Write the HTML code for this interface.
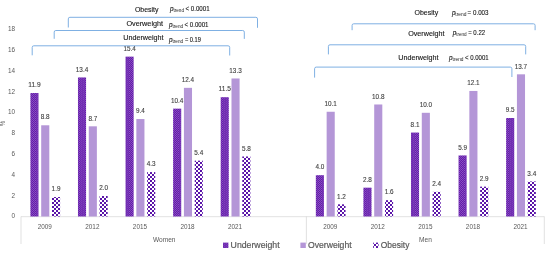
<!DOCTYPE html>
<html lang="en"><head><meta charset="utf-8"><title>Chart</title>
<style>html,body{margin:0;padding:0;background:#fff}svg{display:block}</style></head>
<body>
<svg width="550" height="254" viewBox="0 0 550 254" font-family="'Liberation Sans', sans-serif">
<defs>
<pattern id="pu" width="2.2" height="2" patternUnits="userSpaceOnUse"><rect width="2.2" height="2" fill="#5f14a6"/><circle cx="0.55" cy="0.5" r="0.5" fill="#a070d2"/><circle cx="1.65" cy="1.5" r="0.5" fill="#a070d2"/></pattern>
<pattern id="po" width="4" height="4" patternUnits="userSpaceOnUse"><rect width="4" height="4" fill="#fff"/><rect x="2" y="0" width="2" height="2" fill="#5a14a8"/><rect x="0" y="2" width="2" height="2" fill="#5a14a8"/></pattern>
</defs>
<rect width="550" height="254" fill="#fff"/>
<g stroke="#d9d9d9" stroke-width="0.8" fill="none">
<line x1="21.0" y1="216.7" x2="544.3" y2="216.7"/>
<line x1="21.0" y1="216.5" x2="21.0" y2="244"/>
<line x1="306.4" y1="216.5" x2="306.4" y2="244"/>
<line x1="544.3" y1="216.5" x2="544.3" y2="244"/>
</g>
<text x="11.46" y="218.35" font-size="7" fill="#595959" textLength="3.54" lengthAdjust="spacingAndGlyphs">0</text>
<text x="11.46" y="197.55" font-size="7" fill="#595959" textLength="3.54" lengthAdjust="spacingAndGlyphs">2</text>
<text x="11.46" y="176.75" font-size="7" fill="#595959" textLength="3.54" lengthAdjust="spacingAndGlyphs">4</text>
<text x="11.46" y="155.95" font-size="7" fill="#595959" textLength="3.54" lengthAdjust="spacingAndGlyphs">6</text>
<text x="11.46" y="135.15" font-size="7" fill="#595959" textLength="3.54" lengthAdjust="spacingAndGlyphs">8</text>
<text x="7.92" y="114.35" font-size="7" fill="#595959" textLength="7.08" lengthAdjust="spacingAndGlyphs">10</text>
<text x="7.92" y="93.55" font-size="7" fill="#595959" textLength="7.08" lengthAdjust="spacingAndGlyphs">12</text>
<text x="7.92" y="72.75" font-size="7" fill="#595959" textLength="7.08" lengthAdjust="spacingAndGlyphs">14</text>
<text x="7.92" y="51.95" font-size="7" fill="#595959" textLength="7.08" lengthAdjust="spacingAndGlyphs">16</text>
<text x="7.92" y="31.15" font-size="7" fill="#595959" textLength="7.08" lengthAdjust="spacingAndGlyphs">18</text>
<text font-size="7" fill="#595959" text-anchor="middle" transform="translate(4.9,123.6) rotate(-90) scale(0.89,1)">%</text>
<rect x="30.40" y="93.04" width="8.1" height="123.46" fill="url(#pu)"/>
<text x="28.25" y="87.24" font-size="7" fill="#404040" stroke="#404040" stroke-width="0.12" textLength="12.40" lengthAdjust="spacingAndGlyphs">11.9</text>
<rect x="41.20" y="125.28" width="8.1" height="91.22" fill="#b496d7"/>
<text x="40.82" y="119.48" font-size="7" fill="#404040" stroke="#404040" stroke-width="0.12" textLength="8.85" lengthAdjust="spacingAndGlyphs">8.8</text>
<rect x="52.00" y="197.04" width="8.1" height="19.46" fill="url(#po)"/>
<text x="51.62" y="191.24" font-size="7" fill="#404040" stroke="#404040" stroke-width="0.12" textLength="8.85" lengthAdjust="spacingAndGlyphs">1.9</text>
<text x="37.70" y="228.60" font-size="7" fill="#595959" textLength="14.17" lengthAdjust="spacingAndGlyphs">2009</text>
<rect x="77.97" y="77.44" width="8.1" height="139.06" fill="url(#pu)"/>
<text x="75.82" y="71.64" font-size="7" fill="#404040" stroke="#404040" stroke-width="0.12" textLength="12.40" lengthAdjust="spacingAndGlyphs">13.4</text>
<rect x="88.77" y="126.32" width="8.1" height="90.18" fill="#b496d7"/>
<text x="88.40" y="120.52" font-size="7" fill="#404040" stroke="#404040" stroke-width="0.12" textLength="8.85" lengthAdjust="spacingAndGlyphs">8.7</text>
<rect x="99.57" y="196.00" width="8.1" height="20.50" fill="url(#po)"/>
<text x="99.20" y="190.20" font-size="7" fill="#404040" stroke="#404040" stroke-width="0.12" textLength="8.85" lengthAdjust="spacingAndGlyphs">2.0</text>
<text x="85.28" y="228.60" font-size="7" fill="#595959" textLength="14.17" lengthAdjust="spacingAndGlyphs">2012</text>
<rect x="125.55" y="56.64" width="8.1" height="159.86" fill="url(#pu)"/>
<text x="123.40" y="50.84" font-size="7" fill="#404040" stroke="#404040" stroke-width="0.12" textLength="12.40" lengthAdjust="spacingAndGlyphs">15.4</text>
<rect x="136.35" y="119.04" width="8.1" height="97.46" fill="#b496d7"/>
<text x="135.97" y="113.24" font-size="7" fill="#404040" stroke="#404040" stroke-width="0.12" textLength="8.85" lengthAdjust="spacingAndGlyphs">9.4</text>
<rect x="147.15" y="172.08" width="8.1" height="44.42" fill="url(#po)"/>
<text x="146.77" y="166.28" font-size="7" fill="#404040" stroke="#404040" stroke-width="0.12" textLength="8.85" lengthAdjust="spacingAndGlyphs">4.3</text>
<text x="132.85" y="228.60" font-size="7" fill="#595959" textLength="14.17" lengthAdjust="spacingAndGlyphs">2015</text>
<rect x="173.12" y="108.64" width="8.1" height="107.86" fill="url(#pu)"/>
<text x="170.97" y="102.84" font-size="7" fill="#404040" stroke="#404040" stroke-width="0.12" textLength="12.40" lengthAdjust="spacingAndGlyphs">10.4</text>
<rect x="183.92" y="87.84" width="8.1" height="128.66" fill="#b496d7"/>
<text x="181.77" y="82.04" font-size="7" fill="#404040" stroke="#404040" stroke-width="0.12" textLength="12.40" lengthAdjust="spacingAndGlyphs">12.4</text>
<rect x="194.72" y="160.64" width="8.1" height="55.86" fill="url(#po)"/>
<text x="194.34" y="154.84" font-size="7" fill="#404040" stroke="#404040" stroke-width="0.12" textLength="8.85" lengthAdjust="spacingAndGlyphs">5.4</text>
<text x="180.42" y="228.60" font-size="7" fill="#595959" textLength="14.17" lengthAdjust="spacingAndGlyphs">2018</text>
<rect x="220.69" y="97.20" width="8.1" height="119.30" fill="url(#pu)"/>
<text x="218.54" y="91.40" font-size="7" fill="#404040" stroke="#404040" stroke-width="0.12" textLength="12.40" lengthAdjust="spacingAndGlyphs">11.5</text>
<rect x="231.49" y="78.48" width="8.1" height="138.02" fill="#b496d7"/>
<text x="229.34" y="72.68" font-size="7" fill="#404040" stroke="#404040" stroke-width="0.12" textLength="12.40" lengthAdjust="spacingAndGlyphs">13.3</text>
<rect x="242.29" y="156.48" width="8.1" height="60.02" fill="url(#po)"/>
<text x="241.91" y="150.68" font-size="7" fill="#404040" stroke="#404040" stroke-width="0.12" textLength="8.85" lengthAdjust="spacingAndGlyphs">5.8</text>
<text x="227.99" y="228.60" font-size="7" fill="#595959" textLength="14.17" lengthAdjust="spacingAndGlyphs">2021</text>
<rect x="315.84" y="175.20" width="8.1" height="41.30" fill="url(#pu)"/>
<text x="315.46" y="169.40" font-size="7" fill="#404040" stroke="#404040" stroke-width="0.12" textLength="8.85" lengthAdjust="spacingAndGlyphs">4.0</text>
<rect x="326.64" y="111.76" width="8.1" height="104.74" fill="#b496d7"/>
<text x="324.49" y="105.96" font-size="7" fill="#404040" stroke="#404040" stroke-width="0.12" textLength="12.40" lengthAdjust="spacingAndGlyphs">10.1</text>
<rect x="337.44" y="204.32" width="8.1" height="12.18" fill="url(#po)"/>
<text x="337.06" y="198.52" font-size="7" fill="#404040" stroke="#404040" stroke-width="0.12" textLength="8.85" lengthAdjust="spacingAndGlyphs">1.2</text>
<text x="323.14" y="228.60" font-size="7" fill="#595959" textLength="14.17" lengthAdjust="spacingAndGlyphs">2009</text>
<rect x="363.41" y="187.68" width="8.1" height="28.82" fill="url(#pu)"/>
<text x="363.03" y="181.88" font-size="7" fill="#404040" stroke="#404040" stroke-width="0.12" textLength="8.85" lengthAdjust="spacingAndGlyphs">2.8</text>
<rect x="374.21" y="104.48" width="8.1" height="112.02" fill="#b496d7"/>
<text x="372.06" y="98.68" font-size="7" fill="#404040" stroke="#404040" stroke-width="0.12" textLength="12.40" lengthAdjust="spacingAndGlyphs">10.8</text>
<rect x="385.01" y="200.16" width="8.1" height="16.34" fill="url(#po)"/>
<text x="384.63" y="194.36" font-size="7" fill="#404040" stroke="#404040" stroke-width="0.12" textLength="8.85" lengthAdjust="spacingAndGlyphs">1.6</text>
<text x="370.71" y="228.60" font-size="7" fill="#595959" textLength="14.17" lengthAdjust="spacingAndGlyphs">2012</text>
<rect x="410.98" y="132.56" width="8.1" height="83.94" fill="url(#pu)"/>
<text x="410.60" y="126.76" font-size="7" fill="#404040" stroke="#404040" stroke-width="0.12" textLength="8.85" lengthAdjust="spacingAndGlyphs">8.1</text>
<rect x="421.78" y="112.80" width="8.1" height="103.70" fill="#b496d7"/>
<text x="419.63" y="107.00" font-size="7" fill="#404040" stroke="#404040" stroke-width="0.12" textLength="12.40" lengthAdjust="spacingAndGlyphs">10.0</text>
<rect x="432.58" y="191.84" width="8.1" height="24.66" fill="url(#po)"/>
<text x="432.20" y="186.04" font-size="7" fill="#404040" stroke="#404040" stroke-width="0.12" textLength="8.85" lengthAdjust="spacingAndGlyphs">2.4</text>
<text x="418.28" y="228.60" font-size="7" fill="#595959" textLength="14.17" lengthAdjust="spacingAndGlyphs">2015</text>
<rect x="458.55" y="155.44" width="8.1" height="61.06" fill="url(#pu)"/>
<text x="458.18" y="149.64" font-size="7" fill="#404040" stroke="#404040" stroke-width="0.12" textLength="8.85" lengthAdjust="spacingAndGlyphs">5.9</text>
<rect x="469.35" y="90.96" width="8.1" height="125.54" fill="#b496d7"/>
<text x="467.21" y="85.16" font-size="7" fill="#404040" stroke="#404040" stroke-width="0.12" textLength="12.40" lengthAdjust="spacingAndGlyphs">12.1</text>
<rect x="480.15" y="186.64" width="8.1" height="29.86" fill="url(#po)"/>
<text x="479.78" y="180.84" font-size="7" fill="#404040" stroke="#404040" stroke-width="0.12" textLength="8.85" lengthAdjust="spacingAndGlyphs">2.9</text>
<text x="465.86" y="228.60" font-size="7" fill="#595959" textLength="14.17" lengthAdjust="spacingAndGlyphs">2018</text>
<rect x="506.13" y="118.00" width="8.1" height="98.50" fill="url(#pu)"/>
<text x="505.75" y="112.20" font-size="7" fill="#404040" stroke="#404040" stroke-width="0.12" textLength="8.85" lengthAdjust="spacingAndGlyphs">9.5</text>
<rect x="516.93" y="74.32" width="8.1" height="142.18" fill="#b496d7"/>
<text x="514.78" y="68.52" font-size="7" fill="#404040" stroke="#404040" stroke-width="0.12" textLength="12.40" lengthAdjust="spacingAndGlyphs">13.7</text>
<rect x="527.73" y="181.44" width="8.1" height="35.06" fill="url(#po)"/>
<text x="527.35" y="175.64" font-size="7" fill="#404040" stroke="#404040" stroke-width="0.12" textLength="8.85" lengthAdjust="spacingAndGlyphs">3.4</text>
<text x="513.43" y="228.60" font-size="7" fill="#595959" textLength="14.17" lengthAdjust="spacingAndGlyphs">2021</text>
<text x="152.95" y="241.70" font-size="7" fill="#595959" textLength="22.50" lengthAdjust="spacingAndGlyphs">Women</text>
<text x="419.00" y="242.20" font-size="7" fill="#595959" textLength="12.80" lengthAdjust="spacingAndGlyphs">Men</text>
<rect x="223" y="242.6" width="5.4" height="5.4" fill="url(#pu)"/>
<text x="230.60" y="248.20" font-size="9.2" fill="#595959" stroke="#595959" stroke-width="0.2" textLength="49.00" lengthAdjust="spacingAndGlyphs">Underweight</text>
<rect x="300.4" y="242.6" width="5.4" height="5.4" fill="#b496d7"/>
<text x="308.00" y="248.20" font-size="9.2" fill="#595959" stroke="#595959" stroke-width="0.2" textLength="43.60" lengthAdjust="spacingAndGlyphs">Overweight</text>
<rect x="373.2" y="242.6" width="5.4" height="5.4" fill="url(#po)"/>
<text x="380.80" y="248.20" font-size="9.2" fill="#595959" stroke="#595959" stroke-width="0.2" textLength="28.60" lengthAdjust="spacingAndGlyphs">Obesity</text>
<path d="M68.3,27.5 V18.900000000000002 Q68.3,17.3 69.89999999999999,17.3 H255.9 Q257.5,17.3 257.5,18.900000000000002 V27.8" fill="none" stroke="#7fb0e3" stroke-width="1"/>
<path d="M54.2,38.8 V32.1 Q54.2,30.5 55.800000000000004,30.5 H242.70000000000002 Q244.3,30.5 244.3,32.1 V38.9" fill="none" stroke="#7fb0e3" stroke-width="1"/>
<path d="M32.2,55.3 V47.4 Q32.2,45.8 33.800000000000004,45.8 H228.1 Q229.7,45.8 229.7,47.4 V55.5" fill="none" stroke="#7fb0e3" stroke-width="1"/>
<path d="M352.1,30.2 V25.400000000000002 Q352.1,23.8 353.70000000000005,23.8 H533.5 Q535.1,23.8 535.1,25.400000000000002 V30.2" fill="none" stroke="#7fb0e3" stroke-width="1"/>
<path d="M328.4,54.4 V46.4 Q328.4,44.8 330.0,44.8 H524.1 Q525.7,44.8 525.7,46.4 V54.4" fill="none" stroke="#7fb0e3" stroke-width="1"/>
<path d="M314.6,77.6 V68.69999999999999 Q314.6,67.1 316.20000000000005,67.1 H510.29999999999995 Q511.9,67.1 511.9,68.69999999999999 V77.0" fill="none" stroke="#7fb0e3" stroke-width="1"/>
<text x="134.90" y="11.60" font-size="6.8" fill="#1a1a1a" stroke="#1a1a1a" stroke-width="0.12" textLength="23.60" lengthAdjust="spacingAndGlyphs">Obesity</text>
<text x="169.90" y="10.9" font-size="6.4" fill="#1a1a1a" font-style="italic" stroke="#1a1a1a" stroke-width="0.12">p</text>
<text x="173.40" y="12.10" font-size="4.6" fill="#222" textLength="10.60" lengthAdjust="spacingAndGlyphs">trend</text>
<text x="185.50" y="10.90" font-size="6.8" fill="#1a1a1a" stroke="#1a1a1a" stroke-width="0.12" textLength="24.10" lengthAdjust="spacingAndGlyphs">&lt; 0.0001</text>
<text x="126.40" y="25.80" font-size="6.8" fill="#1a1a1a" stroke="#1a1a1a" stroke-width="0.12" textLength="36.70" lengthAdjust="spacingAndGlyphs">Overweight</text>
<text x="169.00" y="26.7" font-size="6.4" fill="#1a1a1a" font-style="italic" stroke="#1a1a1a" stroke-width="0.12">p</text>
<text x="172.50" y="27.90" font-size="4.6" fill="#222" textLength="10.60" lengthAdjust="spacingAndGlyphs">trend</text>
<text x="184.50" y="26.70" font-size="6.8" fill="#1a1a1a" stroke="#1a1a1a" stroke-width="0.12" textLength="24.00" lengthAdjust="spacingAndGlyphs">&lt; 0.0001</text>
<text x="123.30" y="39.60" font-size="6.8" fill="#1a1a1a" stroke="#1a1a1a" stroke-width="0.12" textLength="40.30" lengthAdjust="spacingAndGlyphs">Underweight</text>
<text x="169.00" y="42.2" font-size="6.4" fill="#1a1a1a" font-style="italic" stroke="#1a1a1a" stroke-width="0.12">p</text>
<text x="172.50" y="43.40" font-size="4.6" fill="#222" textLength="10.60" lengthAdjust="spacingAndGlyphs">trend</text>
<text x="184.90" y="42.20" font-size="6.8" fill="#1a1a1a" stroke="#1a1a1a" stroke-width="0.12" textLength="16.00" lengthAdjust="spacingAndGlyphs">= 0.19</text>
<text x="414.50" y="15.30" font-size="6.8" fill="#1a1a1a" stroke="#1a1a1a" stroke-width="0.12" textLength="23.70" lengthAdjust="spacingAndGlyphs">Obesity</text>
<text x="451.90" y="14.5" font-size="6.4" fill="#1a1a1a" font-style="italic" stroke="#1a1a1a" stroke-width="0.12">p</text>
<text x="455.30" y="15.70" font-size="4.6" fill="#222" textLength="11.10" lengthAdjust="spacingAndGlyphs">trend</text>
<text x="467.60" y="14.50" font-size="6.8" fill="#1a1a1a" stroke="#1a1a1a" stroke-width="0.12" textLength="20.90" lengthAdjust="spacingAndGlyphs">= 0.003</text>
<text x="408.20" y="35.50" font-size="6.8" fill="#1a1a1a" stroke="#1a1a1a" stroke-width="0.12" textLength="36.30" lengthAdjust="spacingAndGlyphs">Overweight</text>
<text x="452.80" y="34.9" font-size="6.4" fill="#1a1a1a" font-style="italic" stroke="#1a1a1a" stroke-width="0.12">p</text>
<text x="456.20" y="36.10" font-size="4.6" fill="#222" textLength="10.50" lengthAdjust="spacingAndGlyphs">trend</text>
<text x="468.20" y="34.90" font-size="6.8" fill="#1a1a1a" stroke="#1a1a1a" stroke-width="0.12" textLength="16.90" lengthAdjust="spacingAndGlyphs">= 0.22</text>
<text x="398.30" y="60.00" font-size="6.8" fill="#1a1a1a" stroke="#1a1a1a" stroke-width="0.12" textLength="40.30" lengthAdjust="spacingAndGlyphs">Underweight</text>
<text x="449.00" y="59.5" font-size="6.4" fill="#1a1a1a" font-style="italic" stroke="#1a1a1a" stroke-width="0.12">p</text>
<text x="452.60" y="60.70" font-size="4.6" fill="#222" textLength="10.90" lengthAdjust="spacingAndGlyphs">trend</text>
<text x="465.00" y="59.50" font-size="6.8" fill="#1a1a1a" stroke="#1a1a1a" stroke-width="0.12" textLength="23.60" lengthAdjust="spacingAndGlyphs">&lt; 0.0001</text>
</svg>
</body></html>
